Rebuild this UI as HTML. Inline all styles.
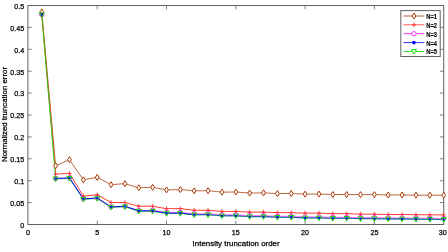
<!DOCTYPE html>
<html><head><meta charset="utf-8"><title>plot</title><style>html,body{margin:0;padding:0;background:#fff}body{width:448px;height:252px;overflow:hidden}</style></head><body>
<svg width="448" height="252" viewBox="0 0 448 252" style="display:block;font-family:'Liberation Sans',sans-serif">
<rect width="448" height="252" fill="#fff"/>
<rect x="27.90" y="5.50" width="415.80" height="219.00" fill="none" stroke="#626262" stroke-width="1"/>
<path d="M97.20 224.50v-3.8M97.20 5.50v3.8M166.50 224.50v-3.8M166.50 5.50v3.8M235.80 224.50v-3.8M235.80 5.50v3.8M305.10 224.50v-3.8M305.10 5.50v3.8M374.40 224.50v-3.8M374.40 5.50v3.8M27.90 202.60h3.8M443.70 202.60h-3.8M27.90 180.70h3.8M443.70 180.70h-3.8M27.90 158.80h3.8M443.70 158.80h-3.8M27.90 136.90h3.8M443.70 136.90h-3.8M27.90 115.00h3.8M443.70 115.00h-3.8M27.90 93.10h3.8M443.70 93.10h-3.8M27.90 71.20h3.8M443.70 71.20h-3.8M27.90 49.30h3.8M443.70 49.30h-3.8M27.90 27.40h3.8M443.70 27.40h-3.8" stroke="#626262" stroke-width="0.8" fill="none"/>
<g>
<polyline points="41.76,11.85 55.62,165.81 69.48,159.68 83.34,179.82 97.20,177.33 111.06,184.64 124.92,183.68 138.78,187.80 152.64,187.27 166.50,189.94 180.36,189.53 194.22,190.86 208.08,190.66 221.94,192.18 235.80,191.98 249.66,193.05 263.52,192.85 277.38,193.58 291.24,193.47 305.10,194.15 318.96,194.04 332.82,194.50 346.68,194.48 360.54,194.63 374.40,194.61 388.26,194.94 402.12,194.91 415.98,195.20 429.84,195.18 443.70,195.24" fill="none" stroke="#a83808" stroke-width="0.75" stroke-linejoin="round" stroke-opacity="1"/>
<polyline points="41.76,14.70 55.62,174.13 69.48,173.39 83.34,196.16 97.20,194.72 111.06,202.51 124.92,202.51 138.78,206.24 152.64,206.24 166.50,208.73 180.36,208.60 194.22,210.26 208.08,210.26 221.94,211.40 235.80,211.40 249.66,212.15 263.52,212.15 277.38,212.63 291.24,212.63 305.10,213.16 318.96,213.16 332.82,213.68 346.68,213.68 360.54,214.12 374.40,214.21 388.26,214.47 402.12,214.47 415.98,214.73 429.84,214.82 443.70,214.91" fill="none" stroke="#ff3030" stroke-width="0.95" stroke-linejoin="round" stroke-opacity="1"/>
<polyline points="55.62,178.51 69.48,177.94 83.34,198.88 97.20,198.09 111.06,206.85 124.92,206.37 138.78,210.40 152.64,210.40 166.50,212.41 180.36,212.41 194.22,213.77 208.08,213.77 221.94,214.78 235.80,214.78 249.66,215.61 263.52,215.61 277.38,216.27 291.24,216.27 305.10,216.92 318.96,216.92 332.82,217.27 346.68,217.27 360.54,217.58 374.40,217.67 388.26,217.89 402.12,217.97 415.98,218.15 429.84,218.24 443.70,218.46" fill="none" stroke="#ff00ff" stroke-width="0.55" stroke-linejoin="round" stroke-opacity="1"/>
<polyline points="41.76,14.70 55.62,178.95 69.48,178.38 83.34,199.31 97.20,198.53 111.06,207.29 124.92,206.80 138.78,211.27 152.64,211.27 166.50,213.55 180.36,213.55 194.22,214.91" fill="none" stroke="#00e000" stroke-width="0.8" stroke-linejoin="round" stroke-opacity="1"/>
<polyline points="55.62,178.51 69.48,177.94 83.34,198.88 97.20,198.09 111.06,206.85 124.92,206.37 138.78,210.83 152.64,210.83 166.50,213.11 180.36,213.11 194.22,214.65 208.08,214.65 221.94,215.78 235.80,215.78 249.66,216.62 263.52,216.62 277.38,217.27 291.24,217.27 305.10,217.93 318.96,217.93 332.82,218.28 346.68,218.28 360.54,218.59 374.40,218.67 388.26,218.89 402.12,218.98 415.98,219.16 429.84,219.24 443.70,219.46" fill="none" stroke="#0000ff" stroke-width="0.95" stroke-linejoin="round" stroke-opacity="1"/>
<polyline points="194.22,214.91 208.08,214.91 221.94,215.92 235.80,215.92 249.66,216.75 263.52,216.75 277.38,217.40 291.24,217.40 305.10,218.06 318.96,218.06 332.82,218.41 346.68,218.41 360.54,218.72 374.40,218.81 388.26,219.03 402.12,219.11 415.98,219.29 429.84,219.38 443.70,219.59" fill="none" stroke="#00e000" stroke-width="0.9" stroke-linejoin="round" stroke-opacity="0.5"/>
</g>
<g>
<path d="M41.76 8.85L43.66 11.85L41.76 14.85L39.86 11.85Z" fill="#fff" stroke="#a83808" stroke-width="1"/>
<path d="M55.62 162.81L57.52 165.81L55.62 168.81L53.72 165.81Z" fill="#fff" stroke="#a83808" stroke-width="1"/>
<path d="M69.48 156.68L71.38 159.68L69.48 162.68L67.58 159.68Z" fill="#fff" stroke="#a83808" stroke-width="1"/>
<path d="M83.34 176.82L85.24 179.82L83.34 182.82L81.44 179.82Z" fill="#fff" stroke="#a83808" stroke-width="1"/>
<path d="M97.20 174.33L99.10 177.33L97.20 180.33L95.30 177.33Z" fill="#fff" stroke="#a83808" stroke-width="1"/>
<path d="M111.06 181.64L112.96 184.64L111.06 187.64L109.16 184.64Z" fill="#fff" stroke="#a83808" stroke-width="1"/>
<path d="M124.92 180.68L126.82 183.68L124.92 186.68L123.02 183.68Z" fill="#fff" stroke="#a83808" stroke-width="1"/>
<path d="M138.78 184.80L140.68 187.80L138.78 190.80L136.88 187.80Z" fill="#fff" stroke="#a83808" stroke-width="1"/>
<path d="M152.64 184.27L154.54 187.27L152.64 190.27L150.74 187.27Z" fill="#fff" stroke="#a83808" stroke-width="1"/>
<path d="M166.50 186.94L168.40 189.94L166.50 192.94L164.60 189.94Z" fill="#fff" stroke="#a83808" stroke-width="1"/>
<path d="M180.36 186.53L182.26 189.53L180.36 192.53L178.46 189.53Z" fill="#fff" stroke="#a83808" stroke-width="1"/>
<path d="M194.22 187.86L196.12 190.86L194.22 193.86L192.32 190.86Z" fill="#fff" stroke="#a83808" stroke-width="1"/>
<path d="M208.08 187.66L209.98 190.66L208.08 193.66L206.18 190.66Z" fill="#fff" stroke="#a83808" stroke-width="1"/>
<path d="M221.94 189.18L223.84 192.18L221.94 195.18L220.04 192.18Z" fill="#fff" stroke="#a83808" stroke-width="1"/>
<path d="M235.80 188.98L237.70 191.98L235.80 194.98L233.90 191.98Z" fill="#fff" stroke="#a83808" stroke-width="1"/>
<path d="M249.66 190.05L251.56 193.05L249.66 196.05L247.76 193.05Z" fill="#fff" stroke="#a83808" stroke-width="1"/>
<path d="M263.52 189.85L265.42 192.85L263.52 195.85L261.62 192.85Z" fill="#fff" stroke="#a83808" stroke-width="1"/>
<path d="M277.38 190.58L279.28 193.58L277.38 196.58L275.48 193.58Z" fill="#fff" stroke="#a83808" stroke-width="1"/>
<path d="M291.24 190.47L293.14 193.47L291.24 196.47L289.34 193.47Z" fill="#fff" stroke="#a83808" stroke-width="1"/>
<path d="M305.10 191.15L307.00 194.15L305.10 197.15L303.20 194.15Z" fill="#fff" stroke="#a83808" stroke-width="1"/>
<path d="M318.96 191.04L320.86 194.04L318.96 197.04L317.06 194.04Z" fill="#fff" stroke="#a83808" stroke-width="1"/>
<path d="M332.82 191.50L334.72 194.50L332.82 197.50L330.92 194.50Z" fill="#fff" stroke="#a83808" stroke-width="1"/>
<path d="M346.68 191.48L348.58 194.48L346.68 197.48L344.78 194.48Z" fill="#fff" stroke="#a83808" stroke-width="1"/>
<path d="M360.54 191.63L362.44 194.63L360.54 197.63L358.64 194.63Z" fill="#fff" stroke="#a83808" stroke-width="1"/>
<path d="M374.40 191.61L376.30 194.61L374.40 197.61L372.50 194.61Z" fill="#fff" stroke="#a83808" stroke-width="1"/>
<path d="M388.26 191.94L390.16 194.94L388.26 197.94L386.36 194.94Z" fill="#fff" stroke="#a83808" stroke-width="1"/>
<path d="M402.12 191.91L404.02 194.91L402.12 197.91L400.22 194.91Z" fill="#fff" stroke="#a83808" stroke-width="1"/>
<path d="M415.98 192.20L417.88 195.20L415.98 198.20L414.08 195.20Z" fill="#fff" stroke="#a83808" stroke-width="1"/>
<path d="M429.84 192.18L431.74 195.18L429.84 198.18L427.94 195.18Z" fill="#fff" stroke="#a83808" stroke-width="1"/>
<path d="M443.70 192.24L445.60 195.24L443.70 198.24L441.80 195.24Z" fill="#fff" stroke="#a83808" stroke-width="1"/>
</g>
<g>
<path d="M39.76 14.70H43.76M41.76 12.50V16.90" fill="none" stroke="#ff3030" stroke-width="0.9"/>
<path d="M53.62 174.13H57.62M55.62 171.93V176.33" fill="none" stroke="#ff3030" stroke-width="0.9"/>
<path d="M67.48 173.39H71.48M69.48 171.19V175.59" fill="none" stroke="#ff3030" stroke-width="0.9"/>
<path d="M81.34 196.16H85.34M83.34 193.96V198.36" fill="none" stroke="#ff3030" stroke-width="0.9"/>
<path d="M95.20 194.72H99.20M97.20 192.52V196.92" fill="none" stroke="#ff3030" stroke-width="0.9"/>
<path d="M109.06 202.51H113.06M111.06 200.31V204.71" fill="none" stroke="#ff3030" stroke-width="0.9"/>
<path d="M122.92 202.51H126.92M124.92 200.31V204.71" fill="none" stroke="#ff3030" stroke-width="0.9"/>
<path d="M136.78 206.24H140.78M138.78 204.04V208.44" fill="none" stroke="#ff3030" stroke-width="0.9"/>
<path d="M150.64 206.24H154.64M152.64 204.04V208.44" fill="none" stroke="#ff3030" stroke-width="0.9"/>
<path d="M164.50 208.73H168.50M166.50 206.53V210.93" fill="none" stroke="#ff3030" stroke-width="0.9"/>
<path d="M178.36 208.60H182.36M180.36 206.40V210.80" fill="none" stroke="#ff3030" stroke-width="0.9"/>
<path d="M192.22 210.26H196.22M194.22 208.06V212.46" fill="none" stroke="#ff3030" stroke-width="0.9"/>
<path d="M206.08 210.26H210.08M208.08 208.06V212.46" fill="none" stroke="#ff3030" stroke-width="0.9"/>
<path d="M219.94 211.40H223.94M221.94 209.20V213.60" fill="none" stroke="#ff3030" stroke-width="0.9"/>
<path d="M233.80 211.40H237.80M235.80 209.20V213.60" fill="none" stroke="#ff3030" stroke-width="0.9"/>
<path d="M247.66 212.15H251.66M249.66 209.95V214.35" fill="none" stroke="#ff3030" stroke-width="0.9"/>
<path d="M261.52 212.15H265.52M263.52 209.95V214.35" fill="none" stroke="#ff3030" stroke-width="0.9"/>
<path d="M275.38 212.63H279.38M277.38 210.43V214.83" fill="none" stroke="#ff3030" stroke-width="0.9"/>
<path d="M289.24 212.63H293.24M291.24 210.43V214.83" fill="none" stroke="#ff3030" stroke-width="0.9"/>
<path d="M303.10 213.16H307.10M305.10 210.96V215.36" fill="none" stroke="#ff3030" stroke-width="0.9"/>
<path d="M316.96 213.16H320.96M318.96 210.96V215.36" fill="none" stroke="#ff3030" stroke-width="0.9"/>
<path d="M330.82 213.68H334.82M332.82 211.48V215.88" fill="none" stroke="#ff3030" stroke-width="0.9"/>
<path d="M344.68 213.68H348.68M346.68 211.48V215.88" fill="none" stroke="#ff3030" stroke-width="0.9"/>
<path d="M358.54 214.12H362.54M360.54 211.92V216.32" fill="none" stroke="#ff3030" stroke-width="0.9"/>
<path d="M372.40 214.21H376.40M374.40 212.01V216.41" fill="none" stroke="#ff3030" stroke-width="0.9"/>
<path d="M386.26 214.47H390.26M388.26 212.27V216.67" fill="none" stroke="#ff3030" stroke-width="0.9"/>
<path d="M400.12 214.47H404.12M402.12 212.27V216.67" fill="none" stroke="#ff3030" stroke-width="0.9"/>
<path d="M413.98 214.73H417.98M415.98 212.53V216.93" fill="none" stroke="#ff3030" stroke-width="0.9"/>
<path d="M427.84 214.82H431.84M429.84 212.62V217.02" fill="none" stroke="#ff3030" stroke-width="0.9"/>
<path d="M441.70 214.91H445.70M443.70 212.71V217.11" fill="none" stroke="#ff3030" stroke-width="0.9"/>
</g>
<g>
<circle cx="41.76" cy="14.70" r="2.2" fill="none" stroke="#ff00ff" stroke-width="0.8"/>
<circle cx="55.62" cy="178.51" r="2.2" fill="none" stroke="#ff00ff" stroke-width="0.8"/>
<circle cx="69.48" cy="177.94" r="2.2" fill="none" stroke="#ff00ff" stroke-width="0.8"/>
<circle cx="83.34" cy="198.88" r="2.2" fill="none" stroke="#ff00ff" stroke-width="0.8"/>
<circle cx="97.20" cy="198.09" r="2.2" fill="none" stroke="#ff00ff" stroke-width="0.8"/>
<circle cx="111.06" cy="206.85" r="2.2" fill="none" stroke="#ff00ff" stroke-width="0.8"/>
<circle cx="124.92" cy="206.37" r="2.2" fill="none" stroke="#ff00ff" stroke-width="0.8"/>
<circle cx="138.78" cy="210.40" r="2.2" fill="none" stroke="#ff00ff" stroke-width="0.8"/>
<circle cx="152.64" cy="210.40" r="2.2" fill="none" stroke="#ff00ff" stroke-width="0.8"/>
<circle cx="166.50" cy="212.41" r="2.2" fill="none" stroke="#ff00ff" stroke-width="0.8"/>
<circle cx="180.36" cy="212.41" r="2.2" fill="none" stroke="#ff00ff" stroke-width="0.8"/>
<circle cx="194.22" cy="213.77" r="2.2" fill="none" stroke="#ff00ff" stroke-width="0.8"/>
<circle cx="208.08" cy="213.77" r="2.2" fill="none" stroke="#ff00ff" stroke-width="0.8"/>
<circle cx="221.94" cy="214.78" r="2.2" fill="none" stroke="#ff00ff" stroke-width="0.8"/>
<circle cx="235.80" cy="214.78" r="2.2" fill="none" stroke="#ff00ff" stroke-width="0.8"/>
<circle cx="249.66" cy="215.61" r="2.2" fill="none" stroke="#ff00ff" stroke-width="0.8"/>
<circle cx="263.52" cy="215.61" r="2.2" fill="none" stroke="#ff00ff" stroke-width="0.8"/>
<circle cx="277.38" cy="216.27" r="2.2" fill="none" stroke="#ff00ff" stroke-width="0.8"/>
<circle cx="291.24" cy="216.27" r="2.2" fill="none" stroke="#ff00ff" stroke-width="0.8"/>
<circle cx="305.10" cy="216.92" r="2.2" fill="none" stroke="#ff00ff" stroke-width="0.8"/>
<circle cx="318.96" cy="216.92" r="2.2" fill="none" stroke="#ff00ff" stroke-width="0.8"/>
<circle cx="332.82" cy="217.27" r="2.2" fill="none" stroke="#ff00ff" stroke-width="0.8"/>
<circle cx="346.68" cy="217.27" r="2.2" fill="none" stroke="#ff00ff" stroke-width="0.8"/>
<circle cx="360.54" cy="217.58" r="2.2" fill="none" stroke="#ff00ff" stroke-width="0.8"/>
<circle cx="374.40" cy="217.67" r="2.2" fill="none" stroke="#ff00ff" stroke-width="0.8"/>
<circle cx="388.26" cy="217.89" r="2.2" fill="none" stroke="#ff00ff" stroke-width="0.8"/>
<circle cx="402.12" cy="217.97" r="2.2" fill="none" stroke="#ff00ff" stroke-width="0.8"/>
<circle cx="415.98" cy="218.15" r="2.2" fill="none" stroke="#ff00ff" stroke-width="0.8"/>
<circle cx="429.84" cy="218.24" r="2.2" fill="none" stroke="#ff00ff" stroke-width="0.8"/>
<circle cx="443.70" cy="218.46" r="2.2" fill="none" stroke="#ff00ff" stroke-width="0.8"/>
</g>
<g>
<rect x="40.61" y="13.55" width="2.30" height="2.30" rx="0.7" fill="#0000ff"/>
<rect x="54.47" y="177.36" width="2.30" height="2.30" rx="0.7" fill="#0000ff"/>
<rect x="68.33" y="176.79" width="2.30" height="2.30" rx="0.7" fill="#0000ff"/>
<rect x="82.19" y="197.73" width="2.30" height="2.30" rx="0.7" fill="#0000ff"/>
<rect x="96.05" y="196.94" width="2.30" height="2.30" rx="0.7" fill="#0000ff"/>
<rect x="109.91" y="205.70" width="2.30" height="2.30" rx="0.7" fill="#0000ff"/>
<rect x="123.77" y="205.22" width="2.30" height="2.30" rx="0.7" fill="#0000ff"/>
<rect x="137.63" y="209.68" width="2.30" height="2.30" rx="0.7" fill="#0000ff"/>
<rect x="151.49" y="209.68" width="2.30" height="2.30" rx="0.7" fill="#0000ff"/>
<rect x="165.35" y="211.96" width="2.30" height="2.30" rx="0.7" fill="#0000ff"/>
<rect x="179.21" y="211.96" width="2.30" height="2.30" rx="0.7" fill="#0000ff"/>
<rect x="193.07" y="213.50" width="2.30" height="2.30" rx="0.7" fill="#0000ff"/>
<rect x="206.93" y="213.50" width="2.30" height="2.30" rx="0.7" fill="#0000ff"/>
<rect x="220.79" y="214.63" width="2.30" height="2.30" rx="0.7" fill="#0000ff"/>
<rect x="234.65" y="214.63" width="2.30" height="2.30" rx="0.7" fill="#0000ff"/>
<rect x="248.51" y="215.47" width="2.30" height="2.30" rx="0.7" fill="#0000ff"/>
<rect x="262.37" y="215.47" width="2.30" height="2.30" rx="0.7" fill="#0000ff"/>
<rect x="276.23" y="216.12" width="2.30" height="2.30" rx="0.7" fill="#0000ff"/>
<rect x="290.09" y="216.12" width="2.30" height="2.30" rx="0.7" fill="#0000ff"/>
<rect x="303.95" y="216.78" width="2.30" height="2.30" rx="0.7" fill="#0000ff"/>
<rect x="317.81" y="216.78" width="2.30" height="2.30" rx="0.7" fill="#0000ff"/>
<rect x="331.67" y="217.13" width="2.30" height="2.30" rx="0.7" fill="#0000ff"/>
<rect x="345.53" y="217.13" width="2.30" height="2.30" rx="0.7" fill="#0000ff"/>
<rect x="359.39" y="217.44" width="2.30" height="2.30" rx="0.7" fill="#0000ff"/>
<rect x="373.25" y="217.52" width="2.30" height="2.30" rx="0.7" fill="#0000ff"/>
<rect x="387.11" y="217.74" width="2.30" height="2.30" rx="0.7" fill="#0000ff"/>
<rect x="400.97" y="217.83" width="2.30" height="2.30" rx="0.7" fill="#0000ff"/>
<rect x="414.83" y="218.01" width="2.30" height="2.30" rx="0.7" fill="#0000ff"/>
<rect x="428.69" y="218.09" width="2.30" height="2.30" rx="0.7" fill="#0000ff"/>
<rect x="442.55" y="218.31" width="2.30" height="2.30" rx="0.7" fill="#0000ff"/>
</g>
<g>
<path d="M39.21 12.80L44.31 12.80L41.76 17.40Z" fill="none" stroke="#00e000" stroke-width="0.95" stroke-linejoin="round"/>
<path d="M53.07 177.05L58.17 177.05L55.62 181.65Z" fill="none" stroke="#00e000" stroke-width="0.95" stroke-linejoin="round"/>
<path d="M66.93 176.48L72.03 176.48L69.48 181.08Z" fill="none" stroke="#00e000" stroke-width="0.95" stroke-linejoin="round"/>
<path d="M80.79 197.41L85.89 197.41L83.34 202.01Z" fill="none" stroke="#00e000" stroke-width="0.95" stroke-linejoin="round"/>
<path d="M94.65 196.63L99.75 196.63L97.20 201.23Z" fill="none" stroke="#00e000" stroke-width="0.95" stroke-linejoin="round"/>
<path d="M108.51 205.39L113.61 205.39L111.06 209.99Z" fill="none" stroke="#00e000" stroke-width="0.95" stroke-linejoin="round"/>
<path d="M122.37 204.90L127.47 204.90L124.92 209.50Z" fill="none" stroke="#00e000" stroke-width="0.95" stroke-linejoin="round"/>
<path d="M136.23 209.37L141.33 209.37L138.78 213.97Z" fill="none" stroke="#00e000" stroke-width="0.95" stroke-linejoin="round"/>
<path d="M150.09 209.37L155.19 209.37L152.64 213.97Z" fill="none" stroke="#00e000" stroke-width="0.95" stroke-linejoin="round"/>
<path d="M163.95 211.65L169.05 211.65L166.50 216.25Z" fill="none" stroke="#00e000" stroke-width="0.95" stroke-linejoin="round"/>
<path d="M177.81 211.65L182.91 211.65L180.36 216.25Z" fill="none" stroke="#00e000" stroke-width="0.95" stroke-linejoin="round"/>
<path d="M191.67 213.01L196.77 213.01L194.22 217.61Z" fill="none" stroke="#00e000" stroke-width="0.95" stroke-linejoin="round"/>
<path d="M205.53 213.01L210.63 213.01L208.08 217.61Z" fill="none" stroke="#00e000" stroke-width="0.95" stroke-linejoin="round"/>
<path d="M219.39 214.02L224.49 214.02L221.94 218.62Z" fill="none" stroke="#00e000" stroke-width="0.95" stroke-linejoin="round"/>
<path d="M233.25 214.02L238.35 214.02L235.80 218.62Z" fill="none" stroke="#00e000" stroke-width="0.95" stroke-linejoin="round"/>
<path d="M247.11 214.85L252.21 214.85L249.66 219.45Z" fill="none" stroke="#00e000" stroke-width="0.95" stroke-linejoin="round"/>
<path d="M260.97 214.85L266.07 214.85L263.52 219.45Z" fill="none" stroke="#00e000" stroke-width="0.95" stroke-linejoin="round"/>
<path d="M274.83 215.50L279.93 215.50L277.38 220.10Z" fill="none" stroke="#00e000" stroke-width="0.95" stroke-linejoin="round"/>
<path d="M288.69 215.50L293.79 215.50L291.24 220.10Z" fill="none" stroke="#00e000" stroke-width="0.95" stroke-linejoin="round"/>
<path d="M302.55 216.16L307.65 216.16L305.10 220.76Z" fill="none" stroke="#00e000" stroke-width="0.95" stroke-linejoin="round"/>
<path d="M316.41 216.16L321.51 216.16L318.96 220.76Z" fill="none" stroke="#00e000" stroke-width="0.95" stroke-linejoin="round"/>
<path d="M330.27 216.51L335.37 216.51L332.82 221.11Z" fill="none" stroke="#00e000" stroke-width="0.95" stroke-linejoin="round"/>
<path d="M344.13 216.51L349.23 216.51L346.68 221.11Z" fill="none" stroke="#00e000" stroke-width="0.95" stroke-linejoin="round"/>
<path d="M357.99 216.82L363.09 216.82L360.54 221.42Z" fill="none" stroke="#00e000" stroke-width="0.95" stroke-linejoin="round"/>
<path d="M371.85 216.91L376.95 216.91L374.40 221.51Z" fill="none" stroke="#00e000" stroke-width="0.95" stroke-linejoin="round"/>
<path d="M385.71 217.12L390.81 217.12L388.26 221.72Z" fill="none" stroke="#00e000" stroke-width="0.95" stroke-linejoin="round"/>
<path d="M399.57 217.21L404.67 217.21L402.12 221.81Z" fill="none" stroke="#00e000" stroke-width="0.95" stroke-linejoin="round"/>
<path d="M413.43 217.39L418.53 217.39L415.98 221.99Z" fill="none" stroke="#00e000" stroke-width="0.95" stroke-linejoin="round"/>
<path d="M427.29 217.48L432.39 217.48L429.84 222.08Z" fill="none" stroke="#00e000" stroke-width="0.95" stroke-linejoin="round"/>
<path d="M441.15 217.69L446.25 217.69L443.70 222.29Z" fill="none" stroke="#00e000" stroke-width="0.95" stroke-linejoin="round"/>
</g>
<g font-size="7.5" fill="#000" stroke="#000" stroke-width="0.25">
<text x="25.91" y="234.8" textLength="3.98" lengthAdjust="spacingAndGlyphs">0</text>
<text x="95.21" y="234.8" textLength="3.98" lengthAdjust="spacingAndGlyphs">5</text>
<text x="162.52" y="234.8" textLength="7.96" lengthAdjust="spacingAndGlyphs">10</text>
<text x="231.82" y="234.8" textLength="7.96" lengthAdjust="spacingAndGlyphs">15</text>
<text x="301.12" y="234.8" textLength="7.96" lengthAdjust="spacingAndGlyphs">20</text>
<text x="370.42" y="234.8" textLength="7.96" lengthAdjust="spacingAndGlyphs">25</text>
<text x="438.82" y="234.8" textLength="7.96" lengthAdjust="spacingAndGlyphs">30</text>
<text x="20.32" y="227.80" textLength="3.98" lengthAdjust="spacingAndGlyphs">0</text>
<text x="10.36" y="205.90" textLength="13.94" lengthAdjust="spacingAndGlyphs">0.05</text>
<text x="14.34" y="184.00" textLength="9.96" lengthAdjust="spacingAndGlyphs">0.1</text>
<text x="10.36" y="162.10" textLength="13.94" lengthAdjust="spacingAndGlyphs">0.15</text>
<text x="14.34" y="140.20" textLength="9.96" lengthAdjust="spacingAndGlyphs">0.2</text>
<text x="10.36" y="118.30" textLength="13.94" lengthAdjust="spacingAndGlyphs">0.25</text>
<text x="14.34" y="96.40" textLength="9.96" lengthAdjust="spacingAndGlyphs">0.3</text>
<text x="10.36" y="74.50" textLength="13.94" lengthAdjust="spacingAndGlyphs">0.35</text>
<text x="14.34" y="52.60" textLength="9.96" lengthAdjust="spacingAndGlyphs">0.4</text>
<text x="10.36" y="30.70" textLength="13.94" lengthAdjust="spacingAndGlyphs">0.45</text>
<text x="14.34" y="8.80" textLength="9.96" lengthAdjust="spacingAndGlyphs">0.5</text>
</g>
<text x="192.6" y="246.3" font-size="7.9" fill="#000" stroke="#000" stroke-width="0.25" textLength="87" lengthAdjust="spacingAndGlyphs">Intensity truncation order</text>
<text transform="translate(6.5 162.0) rotate(-90)" font-size="7.9" fill="#000" stroke="#000" stroke-width="0.25" textLength="95" lengthAdjust="spacingAndGlyphs">Normalized truncation error</text>
<rect x="400.80" y="10.60" width="39.40" height="45.90" fill="#fff" stroke="#626262" stroke-width="1"/>
<path d="M403.4 16.00H424.4" stroke="#a83808" stroke-width="0.8"/>
<path d="M413.90 13.00L415.80 16.00L413.90 19.00L412.00 16.00Z" fill="#fff" stroke="#a83808" stroke-width="1"/>
<text x="426.2" y="18.90" font-size="6.4" font-weight="bold" fill="#000" stroke="#000" stroke-width="0.1" textLength="10.8" lengthAdjust="spacingAndGlyphs">N=1</text>
<path d="M403.4 24.80H424.4" stroke="#ff3030" stroke-width="0.8"/>
<path d="M411.90 24.80H415.90M413.90 22.60V27.00" fill="none" stroke="#ff3030" stroke-width="0.9"/>
<text x="426.2" y="27.70" font-size="6.4" font-weight="bold" fill="#000" stroke="#000" stroke-width="0.1" textLength="10.8" lengthAdjust="spacingAndGlyphs">N=2</text>
<path d="M403.4 33.70H424.4" stroke="#ff00ff" stroke-width="0.8"/>
<circle cx="413.90" cy="33.70" r="2.2" fill="#fff" stroke="#ff00ff" stroke-width="0.8"/>
<text x="426.2" y="36.60" font-size="6.4" font-weight="bold" fill="#000" stroke="#000" stroke-width="0.1" textLength="10.8" lengthAdjust="spacingAndGlyphs">N=3</text>
<path d="M403.4 42.60H424.4" stroke="#0000ff" stroke-width="0.8"/>
<rect x="412.35" y="41.05" width="3.10" height="3.10" rx="0.7" fill="#0000ff"/>
<text x="426.2" y="45.50" font-size="6.4" font-weight="bold" fill="#000" stroke="#000" stroke-width="0.1" textLength="10.8" lengthAdjust="spacingAndGlyphs">N=4</text>
<path d="M403.4 51.50H424.4" stroke="#00e000" stroke-width="0.8"/>
<path d="M411.35 49.60L416.45 49.60L413.90 54.20Z" fill="#fff" stroke="#00e000" stroke-width="0.95" stroke-linejoin="round"/>
<text x="426.2" y="54.40" font-size="6.4" font-weight="bold" fill="#000" stroke="#000" stroke-width="0.1" textLength="10.8" lengthAdjust="spacingAndGlyphs">N=5</text>
</svg>
</body></html>
